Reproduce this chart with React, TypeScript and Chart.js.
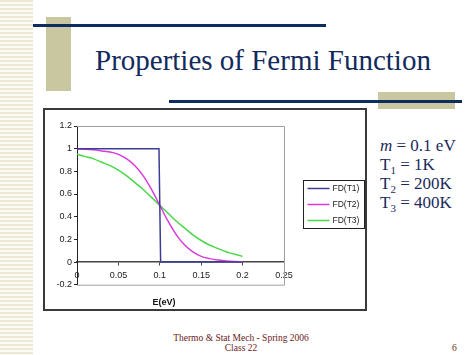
import React, { useEffect, useRef } from "react";
import { Chart, registerables } from "chart.js";

Chart.register(...registerables);

// ---- data ----
const xTickLabels = ["0", "0.05", "0.1", "0.15", "0.2", "0.25"];
const yTickLabels = ["-0.2", "0", "0.2", "0.4", "0.6", "0.8", "1", "1.2"];
const seriesNames = ["FD(T1)", "FD(T2)", "FD(T3)"];

const t1Energy = [0, 0.05, 0.099, 0.1, 0.101, 0.15, 0.2];
const t1Occupancy = [1, 1, 1, 0.5, 0, 0, 0];

const energyGrid = [
  0, 0.01, 0.02, 0.03, 0.04, 0.05, 0.06, 0.07, 0.08, 0.09, 0.1,
  0.11, 0.12, 0.13, 0.14, 0.15, 0.16, 0.17, 0.18, 0.19, 0.2,
];
const t2Occupancy = [
  0.997, 0.995, 0.99, 0.98, 0.97, 0.95, 0.91, 0.85, 0.76, 0.64, 0.5,
  0.36, 0.24, 0.15, 0.09, 0.05, 0.03, 0.017, 0.01, 0.005, 0.003,
];
const t3Occupancy = [
  0.95, 0.93, 0.91, 0.88, 0.85, 0.81, 0.76, 0.7, 0.64, 0.57, 0.5,
  0.43, 0.36, 0.3, 0.24, 0.19, 0.15, 0.12, 0.09, 0.07, 0.05,
];

const lineColors = ["#3c3c96", "#d93bd9", "#48d848"];

const SANS = "'Liberation Sans', Arial, sans-serif";
const SERIF = "'Liberation Serif', 'Times New Roman', serif";

const frameBorder = {
  id: "frameBorder",
  beforeDatasetsDraw(chart: any) {
    const { ctx, chartArea } = chart;
    const { left, right, top, bottom } = chartArea;
    ctx.save();
    ctx.strokeStyle = "#a0a0a0";
    ctx.lineWidth = 1;
    ctx.beginPath();
    ctx.moveTo(left, top + 0.5);
    ctx.lineTo(right + 0.5, top + 0.5);
    ctx.lineTo(right + 0.5, bottom + 0.5);
    ctx.lineTo(left, bottom + 0.5);
    ctx.stroke();
    ctx.restore();
  },
};

const boxedLegend = {
  id: "boxedLegend",
  afterDraw(chart: any) {
    const { ctx } = chart;
    const bx = 259.5;
    const by = 71.5;
    const bw = 61;
    const bh = 48;
    ctx.save();
    ctx.fillStyle = "#ffffff";
    ctx.fillRect(bx, by, bw, bh);
    ctx.strokeStyle = "#222";
    ctx.lineWidth = 1;
    ctx.strokeRect(bx, by, bw, bh);
    ctx.font = `8.5px ${SANS}`;
    ctx.textBaseline = "middle";
    ctx.textAlign = "left";
    chart.data.datasets.forEach((ds: any, i: number) => {
      const y = by + 8 + i * 16;
      ctx.strokeStyle = ds.borderColor;
      ctx.lineWidth = 1.5;
      ctx.beginPath();
      ctx.moveTo(bx + 4, y);
      ctx.lineTo(bx + 26, y);
      ctx.stroke();
      ctx.fillStyle = "#222";
      ctx.fillText(ds.label, bx + 29, y + 0.5);
    });
    ctx.restore();
  },
};

function FermiChart() {
  const ref = useRef<HTMLCanvasElement | null>(null);
  useEffect(() => {
    if (!ref.current) return;
    const chart = new Chart(ref.current, {
      type: "line",
      data: {
        datasets: [
          {
            label: seriesNames[0],
            data: t1Energy.map((x, i) => ({ x, y: t1Occupancy[i] })),
            borderColor: lineColors[0],
            borderWidth: 1.5,
            pointRadius: 0,
            fill: false,
          },
          {
            label: seriesNames[1],
            data: energyGrid.map((x, i) => ({ x, y: t2Occupancy[i] })),
            borderColor: lineColors[1],
            borderWidth: 1.5,
            pointRadius: 0,
            cubicInterpolationMode: "monotone",
            fill: false,
          },
          {
            label: seriesNames[2],
            data: energyGrid.map((x, i) => ({ x, y: t3Occupancy[i] })),
            borderColor: lineColors[2],
            borderWidth: 1.5,
            pointRadius: 0,
            cubicInterpolationMode: "monotone",
            fill: false,
          },
        ],
      },
      options: {
        responsive: false,
        animation: false,
        devicePixelRatio: 1,
        layout: { padding: { left: 0, top: 17, right: 81, bottom: 0 } },
        scales: {
          x: {
            type: "linear",
            min: 0,
            max: 0.25,
            position: { y: 0 } as any,
            ticks: {
              stepSize: 0.05,
              autoSkip: false,
              maxRotation: 0,
              padding: 5,
              color: "#1a1a1a",
              font: { size: 9, family: SANS },
              callback: (_v: any, i: number) => xTickLabels[i],
            },
            grid: {
              drawOnChartArea: false,
              drawTicks: true,
              tickLength: 3,
              color: "#444",
            },
            border: { color: "#444", width: 1.5 },
          },
          y: {
            type: "linear",
            min: -0.2,
            max: 1.2,
            afterFit: (s: any) => {
              s.width = 33;
            },
            ticks: {
              stepSize: 0.2,
              padding: 2,
              color: "#1a1a1a",
              font: { size: 9, family: SANS },
              callback: (_v: any, i: number) => yTickLabels[i],
            },
            grid: {
              drawOnChartArea: false,
              drawTicks: true,
              tickLength: 3,
              color: "#222",
            },
            border: { color: "#222", width: 1 },
          },
        },
        plugins: {
          legend: { display: false },
          tooltip: { enabled: false },
          title: {
            display: true,
            position: "bottom",
            text: "E(eV)",
            color: "#111",
            font: { size: 9, weight: "bold", family: SANS },
            padding: { top: 12.5, bottom: 1 },
          },
        },
      },
      plugins: [frameBorder, boxedLegend],
    } as any);
    return () => chart.destroy();
  }, []);
  return (
    <canvas
      ref={ref}
      width={321}
      height={200}
      style={{ position: "absolute", left: 44, top: 109, width: 321, height: 200 }}
    />
  );
}

export default function App() {
  const abs = (s: React.CSSProperties): React.CSSProperties => ({ position: "absolute", ...s });
  return (
    <div
      style={{
        position: "absolute",
        left: 0,
        top: 0,
        width: 474,
        height: 355,
        background: "#ffffff",
        overflow: "hidden",
      }}
    >
      {/* left stripes */}
      <div
        style={abs({
          left: 0,
          top: 0,
          width: 33,
          height: 355,
          background:
            "repeating-linear-gradient(to bottom, #ebe9d4 0px, #ebe9d4 2px, #fbfbf5 2px, #fbfbf5 4px)",
        })}
      />
      {/* decorative bars */}
      <div style={abs({ left: 46, top: 17, width: 25, height: 74, background: "#c9c79f" })} />
      <div style={abs({ left: 33, top: 24, width: 293, height: 3, background: "#0c2d5e" })} />
      <div style={abs({ left: 378, top: 92, width: 77, height: 17, background: "#c9c79f" })} />
      <div style={abs({ left: 169, top: 100, width: 293, height: 3, background: "#0c2d5e" })} />

      {/* title */}
      <div
        style={abs({
          left: 95,
          top: 46,
          fontFamily: SERIF,
          fontSize: 29,
          lineHeight: "29px",
          color: "#122a5c",
          whiteSpace: "nowrap",
        })}
      >
        Properties of Fermi Function
      </div>

      {/* chart box */}
      <div
        style={abs({
          left: 43,
          top: 108,
          width: 324,
          height: 203,
          boxSizing: "border-box",
          border: "2px solid #3a3a3a",
        })}
      />
      <FermiChart />

      {/* side text */}
      <div
        style={abs({
          left: 380,
          top: 136,
          fontFamily: SERIF,
          fontSize: 17,
          lineHeight: "19px",
          color: "#1b2a5c",
          whiteSpace: "nowrap",
        })}
      >
        <div>
          <i>m</i> = 0.1 eV
        </div>
        <div>
          T<sub style={{ fontSize: 11, lineHeight: 0 }}>1</sub> = 1K
        </div>
        <div>
          T<sub style={{ fontSize: 11, lineHeight: 0 }}>2</sub> = 200K
        </div>
        <div>
          T<sub style={{ fontSize: 11, lineHeight: 0 }}>3</sub> = 400K
        </div>
      </div>

      {/* footer */}
      <div
        style={abs({
          left: 141,
          width: 200,
          top: 333,
          textAlign: "center",
          fontFamily: SERIF,
          fontSize: 9.5,
          lineHeight: "10px",
          color: "#6b2020",
        })}
      >
        <div>Thermo &amp; Stat Mech - Spring 2006</div>
        <div>Class 22</div>
      </div>
      <div
        style={abs({
          left: 452,
          top: 343,
          fontFamily: SERIF,
          fontSize: 9.5,
          lineHeight: "10px",
          color: "#5a2a1a",
        })}
      >
        6
      </div>
    </div>
  );
}
